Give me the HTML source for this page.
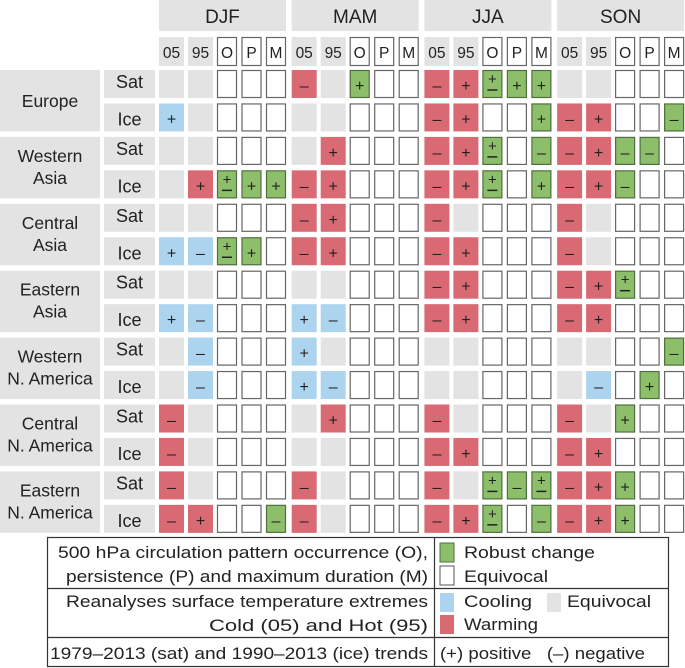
<!DOCTYPE html>
<html><head><meta charset="utf-8">
<style>
html,body{margin:0;padding:0;background:#fff;}
svg{display:block;font-family:"Liberation Sans",sans-serif;}
</style></head>
<body>
<svg id="chart" width="685" height="668" viewBox="0 0 685 668" xmlns="http://www.w3.org/2000/svg">
<g id="grid"></g>
<g id="legend">
  <rect x="47.5" y="537.5" width="621" height="129" fill="none" stroke="#333" stroke-width="1.2"/>
  <line x1="47" y1="588.5" x2="668" y2="588.5" stroke="#333" stroke-width="1.2"/>
  <line x1="47" y1="637.5" x2="668" y2="637.5" stroke="#333" stroke-width="1.2"/>
  <line x1="434.5" y1="537" x2="434.5" y2="667" stroke="#333" stroke-width="1.2"/>
  <g font-size="17" fill="#222" text-anchor="end" lengthAdjust="spacingAndGlyphs">
    <text x="428" y="558" textLength="370" lengthAdjust="spacingAndGlyphs">500 hPa circulation pattern occurrence (O),</text>
    <text x="428" y="582" textLength="362" lengthAdjust="spacingAndGlyphs">persistence (P) and maximum duration (M)</text>
    <text x="428" y="607" textLength="362" lengthAdjust="spacingAndGlyphs">Reanalyses surface temperature extremes</text>
    <text x="428" y="631" textLength="219" lengthAdjust="spacingAndGlyphs">Cold (05) and Hot (95)</text>
    <text x="428" y="659" textLength="378" lengthAdjust="spacingAndGlyphs">1979–2013 (sat) and 1990–2013 (ice) trends</text>
  </g>
  <rect x="440" y="543" width="14" height="19" fill="#8dbf6a" stroke="#4f6f40"/>
  <rect x="440" y="566" width="14" height="19" fill="#fff" stroke="#555"/>
  <rect x="440" y="593" width="14" height="19" fill="#acd4ef"/>
  <rect x="547" y="593" width="14" height="19" fill="#e3e3e3"/>
  <rect x="440" y="615" width="14" height="19" fill="#d96a74"/>
  <g font-size="17" fill="#222">
    <text x="464" y="558" textLength="131" lengthAdjust="spacingAndGlyphs">Robust change</text>
    <text x="464" y="582" textLength="84" lengthAdjust="spacingAndGlyphs">Equivocal</text>
    <text x="464" y="607" textLength="68" lengthAdjust="spacingAndGlyphs">Cooling</text>
    <text x="567" y="607" textLength="84" lengthAdjust="spacingAndGlyphs">Equivocal</text>
    <text x="464" y="630" textLength="74" lengthAdjust="spacingAndGlyphs">Warming</text>
    <text x="440" y="659" textLength="205" lengthAdjust="spacingAndGlyphs" xml:space="preserve">(+) positive   (–) negative</text>
  </g>
</g>
</svg>
<script>
const seasons = ["DJF","MAM","JJA","SON"];
const subCols = ["05","95","O","P","M"];
const regions = ["Europe","Western\nAsia","Central\nAsia","Eastern\nAsia","Western\nN.  America","Central\nN. America","Eastern\nN. America"];
const sources = ["Sat","Ice"];
// g=gray equivocal, w=white equivocal, r/b with sign = warming/cooling, G with sign = robust
const rowEuropeSat = ["g","g","w","w","w","r-","g","G+","w","w","r-","r+","G±","G+","G+","g","g","w","w","w"];
const rowEuropeIce = ["b+","g","w","w","w","g","g","w","w","w","r-","r+","w","w","G+","r-","r+","w","w","G-"];
const rowWAsiaSat = ["g","g","w","w","w","g","r+","w","w","w","r-","r+","G±","w","G-","r-","r+","G-","G-","w"];
const rowWAsiaIce = ["g","r+","G±","G+","G+","r-","r+","w","w","w","r-","r+","G±","w","G+","r-","r+","G-","w","w"];
const rowCAsiaSat = ["g","g","w","w","w","r-","r+","w","w","w","r-","g","w","w","w","r-","g","w","w","w"];
const rowCAsiaIce = ["b+","b-","G±","G+","w","r-","r+","w","w","w","r-","r+","w","w","w","r-","g","w","w","w"];
const rowEAsiaSat = ["g","g","w","w","w","g","g","w","w","w","r-","r+","w","w","w","r-","r+","G±","w","w"];
const rowEAsiaIce = ["b+","b-","w","w","w","b+","b-","w","w","w","r-","r+","w","w","w","r-","r+","w","w","w"];
const rowWNASat = ["g","b-","w","w","w","b+","g","w","w","w","g","g","w","w","w","g","g","w","w","G-"];
const rowWNAIce = ["g","b-","w","w","w","b+","b-","w","w","w","g","g","w","w","w","g","b-","w","G+","w"];
const rowCNASat = ["r-","g","w","w","w","g","r+","w","w","w","r-","g","w","w","w","r-","g","G+","w","w"];
const rowCNAIce = ["r-","g","w","w","w","g","g","w","w","w","r-","r+","w","w","w","r-","r+","w","w","w"];
const rowENASat = ["r-","g","w","w","w","r-","g","w","w","w","r-","g","G±","G-","G±","r-","r+","G+","w","w"];
const rowENAIce = ["r-","r+","w","w","G-","r-","g","w","w","w","r-","r+","G±","w","G-","r-","r+","G+","w","w"];
const rows = [rowEuropeSat,rowEuropeIce,rowWAsiaSat,rowWAsiaIce,rowCAsiaSat,rowCAsiaIce,rowEAsiaSat,rowEAsiaIce,rowWNASat,rowWNAIce,rowCNASat,rowCNAIce,rowENASat,rowENAIce];

const NS="http://www.w3.org/2000/svg";
const g=document.getElementById('grid');
function mk(tag,attrs,parent){const e=document.createElementNS(NS,tag);for(const k in attrs)e.setAttribute(k,attrs[k]);(parent||g).appendChild(e);return e;}
const seasonX = i => 159 + i*132.7;
const colOff = [0,29,58,82.5,107];
const colW = c => c<2?25:20;
const rowY = i => 70 + i*33.45;
const RH = 28;
const COL = {g:"#e3e3e3",r:"#d96a74",b:"#acd4ef",G:"#8dbf6a",w:"#fff"};

seasons.forEach((s,si)=>{
  const x=seasonX(si);
  const h=mk('rect',{x:x,y:0,width:127,height:31,fill:"#e3e3e3"});
  
  
  const t=mk('text',{x:x+63.5,y:23,'font-size':19,'text-anchor':'middle',fill:'#222'});
  t.textContent=s;
  
  
  subCols.forEach((c,ci)=>{
    const cx=x+colOff[ci], w=colW(ci);
    const r = ci<2 ? mk('rect',{x:cx,y:37,width:w,height:29,fill:"#e3e3e3"})
                   : mk('rect',{x:cx+0.5,y:37.5,width:w-1,height:28,fill:"#fff",stroke:"#666","stroke-width":1.2});
    
    
    const tt=mk('text',{x:cx+w/2,y:58,'font-size':15.5,'text-anchor':'middle',fill:'#222'});
    tt.textContent=c;
    
    
  });
});

regions.forEach((rg,ri)=>{
  const y=rowY(ri*2);
  const b=mk('rect',{x:0,y:y,width:100,height:RH*2+5.45,fill:"#e3e3e3"});
  
  
  const lines=rg.split("\n");
  lines.forEach((ln,li)=>{
    const ty = lines.length===1 ? y+37 : y+25+li*22;
    const t=mk('text',{x:50,y:ty,'font-size':17.5,'text-anchor':'middle',fill:'#222','xml:space':'preserve'});
    t.textContent=ln;
    
    
  });
  sources.forEach((src,k)=>{
    const yy=rowY(ri*2+k);
    const sb=mk('rect',{x:104,y:yy,width:51,height:RH,fill:"#e3e3e3"});
    
    
    const st=mk('text',{x:129.5,y:yy+(k?22:18),'font-size':18,'text-anchor':'middle',fill:'#222'});
    st.textContent=src;
    
    
  });
});

rows.forEach((row,ri)=>{
  const y=rowY(ri);
  row.forEach((code,j)=>{
    const si=Math.floor(j/5), ci=j%5;
    const x=seasonX(si)+colOff[ci], w=colW(ci);
    const type=code[0], sign=code.slice(1);
    let r;
    if(type==='w') r=mk('rect',{x:x+0.5,y:y+0.5,width:w-1,height:RH-1,fill:'#fff',stroke:'#666','stroke-width':1.2});
    else if(type==='G') r=mk('rect',{x:x+0.5,y:y+0.5,width:w-1,height:RH-1,fill:COL.G,stroke:'#4f6f40','stroke-width':1.2});
    else r=mk('rect',{x:x,y:y,width:w,height:RH,fill:COL[type]});
    
    
    if(sign){
      const cx=x+w/2;
      if(sign==='±'){
        const a=mk('text',{x:cx,y:y+14,'font-size':15,'text-anchor':'middle',fill:'#222'});
        a.textContent='+';
        
        
        const ln=mk('line',{x1:cx-5,y1:y+20,x2:cx+5,y2:y+20,stroke:'#222','stroke-width':1.5});
        
        
      } else {
        const t=mk('text',{x:cx,y:y+21,'font-size':16,'text-anchor':'middle',fill:'#222'});
        t.textContent = sign==='-' ? '–' : '+';
        
        
      }
    }
  });
});
</script>
</body></html>
